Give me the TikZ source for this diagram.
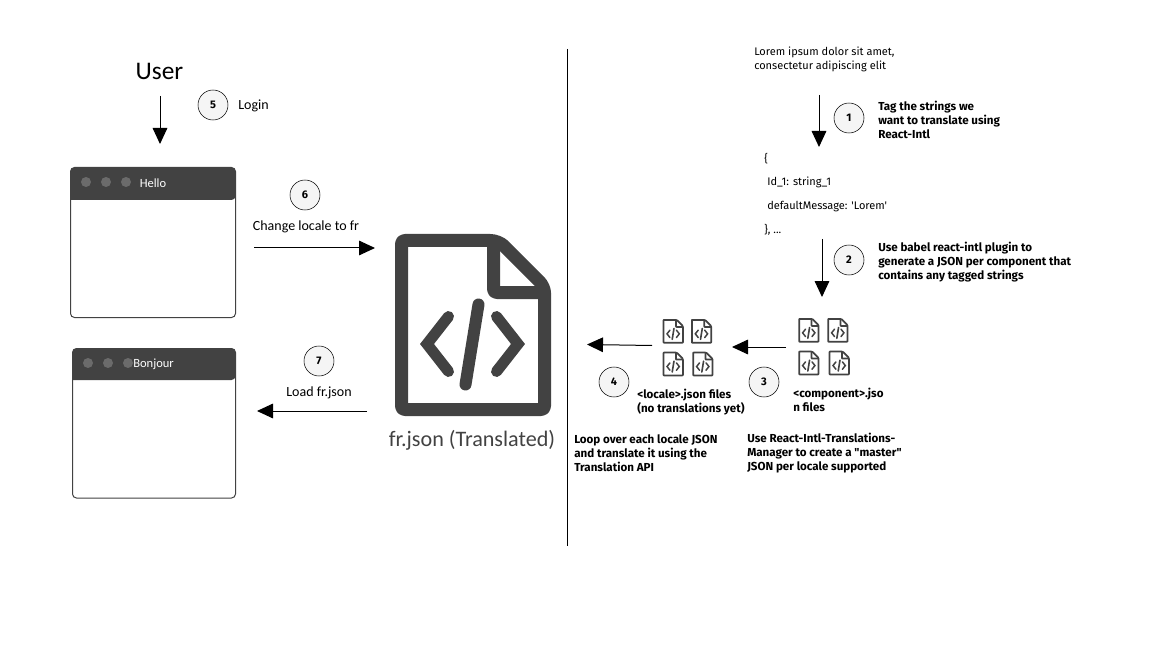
\documentclass[tikz,border=0pt]{standalone}
\usepackage{fontspec}
\setmainfont{Fira Sans}[Ligatures=TeXOff]
\newfontfamily\narrowfont{Carlito}
\usetikzlibrary{arrows.meta}
\definecolor{darkgrey}{HTML}{424242}
\definecolor{dotgrey}{HTML}{6B6B6B}
\definecolor{stepgrey}{HTML}{F5F5F5}
\tikzset{
  pics/fileicon/.style={code={
    \begin{scope}[scale=#1,draw=darkgrey,line join=round]
      \draw[line width=#1*9.75pt,rounded corners=#1*2.5pt] (6.5,-6.5) -- (92,-6.5) .. controls (100,-6.5) and (106,-9) .. (111,-14) -- (142,-45) .. controls (147,-50) and (149.5,-55) .. (149.5,-62) -- (149.5,-175.5) -- (6.5,-175.5) -- cycle;
      \draw[line width=#1*9.75pt,rounded corners=#1*2.5pt] (98.5,-6.5) -- (98.5,-58.5) -- (149.5,-58.5);
      \draw[line width=#1*8.25pt,line cap=round,line join=miter] (53.5,-82.5) -- (32,-110) -- (53.5,-137.5);
      \draw[line width=#1*8.25pt,line cap=round,line join=miter] (101.5,-82.5) -- (123,-110) -- (101.5,-137.5);
      \draw[line width=#1*9pt,line cap=round] (83.5,-70.5) -- (70.5,-150.5);
    \end{scope}
  }}
}
\begin{document}
\begin{tikzpicture}
[x=0.75pt,y=0.75pt,
  stepcircle/.style={shape=circle,draw,fill=stepgrey,minimum size=22.5pt,inner sep=0pt,font=\fontsize{8.25}{10}\selectfont\bfseries},%
  flowarrow/.style={-{Triangle[width=11pt,length=12pt]},line width=0.75pt},%
  plaintext/.style={anchor=west,inner sep=0pt,align=left,font=\fontsize{8.25}{10.5}\selectfont},%
  narrowtext/.style={anchor=center,inner sep=0pt,font=\narrowfont\fontsize{10.5}{12}\selectfont},%
  titletext/.style={anchor=west,inner sep=0pt,text=white,font=\narrowfont\fontsize{9.4}{11}\selectfont},%
  boldtext/.style={anchor=west,inner sep=0pt,align=left,font=\fontsize{8.7}{10.5}\selectfont\bfseries},%
  windowbody/.style={draw=darkgrey,fill=white,rounded corners=3pt,line width=0.75pt},%
  windowdot/.style={shape=circle,fill=dotgrey,minimum size=7.5pt,inner sep=0pt}]
\useasboundingbox (0,0) rectangle (1157,-656);
%% browser windows
\foreach \winname/\xa/\xb/\ya/\yb/\ybar in {hello/70.5/235.5/167.5/317.5/200, bonjour/72.5/235.5/348.5/498/380} {
  \draw[windowbody] (\xa,-\ya) rectangle (\xb,-\yb);
  \fill[darkgrey,rounded corners=3pt] (\xa,-\ybar) |- (\xb,-\ya) -- (\xb,-\ybar) [sharp corners] -- cycle;
}
\foreach \dotname/\x/\y in {h1/86/182, h2/106/182, h3/126/182, b1/88/363, b2/108/363, b3/128/363} {
  \node[windowdot] (\dotname) at (\x,-\y) {};
}
\node[titletext] (hellotitle) at (139.5,-183.5) {Hello};
\node[titletext] (bonjourtitle) at (133,-364.5) {Bonjour};
%% file icons
\pic at (395,-234) {fileicon=1};
\foreach \x/\y in {662.7/319, 691/319, 662.7/351.7, 692.3/351.7, 798.3/318, 827.3/318, 798.3/350.7, 828.7/350.7} {
  \pic at (\x,-\y) {fileicon=0.135};
}
%% step circles
\foreach \nodename/\x/\y in {1/849/118, 2/849/260, 3/764/382, 4/614/382, 5/213/105, 6/305/195, 7/319/361} {
  \node[stepcircle] (step\nodename) at (\x,-\y) {\nodename};
}
%% texts
\node[narrowtext,font=\narrowfont\fontsize{19}{22}\selectfont] (usertext) at (159.5,-71.5) {User};
\node[narrowtext,anchor=west] (logintext) at (238,-106) {Login};
\node[narrowtext] (changetext) at (306,-227) {Change locale to fr};
\node[narrowtext] (loadtext) at (319,-393) {Load fr.json};
\node[narrowtext,text=darkgrey,font=\narrowfont\fontsize{16.6}{20}\selectfont] (filetext) at (472,-440.5) {fr.json (Translated)};
\node[plaintext] (loremtext) at (754,-59) {Lorem ipsum dolor sit amet,\\consectetur adipiscing elit};
\node[plaintext] (brace1) at (764,-159) {\{};
\node[plaintext] (idtext) at (767,-182.5) {Id\_1: string\_1};
\node[plaintext] (defaulttext) at (767,-206.5) {defaultMessage: 'Lorem'};
\node[plaintext] (brace2) at (764,-230) {\}, ...};
\node[boldtext] (text1) at (878,-120) {Tag the strings we\\want to translate using\\React-Intl};
\node[boldtext] (text2) at (878,-262) {Use babel react-intl plugin to\\generate a JSON per component that\\contains any tagged strings};
\node[boldtext] (text3) at (793,-399.5) {<component>.jso\\n files};
\node[boldtext] (text4) at (637,-402.5) {<locale>.json files\\(no translations yet)};
\node[boldtext] (text5) at (574,-453) {Loop over each locale JSON\\and translate it using the\\Translation API};
\node[boldtext] (text6) at (747,-453) {Use React-Intl-Translations-\\Manager to create a "master"\\JSON per locale supported};
%% divider and arrows
\coordinate (divtop) at (567.5,-49);
\coordinate (divbottom) at (567.5,-546);
\draw[line width=0.75pt] (divtop) -- (divbottom);
\foreach \arrowname/\xa/\ya/\xb/\yb in {user/160/96/160/144, six/254/248/375/248, seven/367/411/257/411, one/819/95/819/147, two/822/239/822/297, three/786/347/732/347, four/652/345.5/587/344.5} {
  \coordinate (\arrowname start) at (\xa,-\ya);
  \coordinate (\arrowname end) at (\xb,-\yb);
  \draw[flowarrow] (\arrowname start) -- (\arrowname end);
}
\end{tikzpicture}
\end{document}
